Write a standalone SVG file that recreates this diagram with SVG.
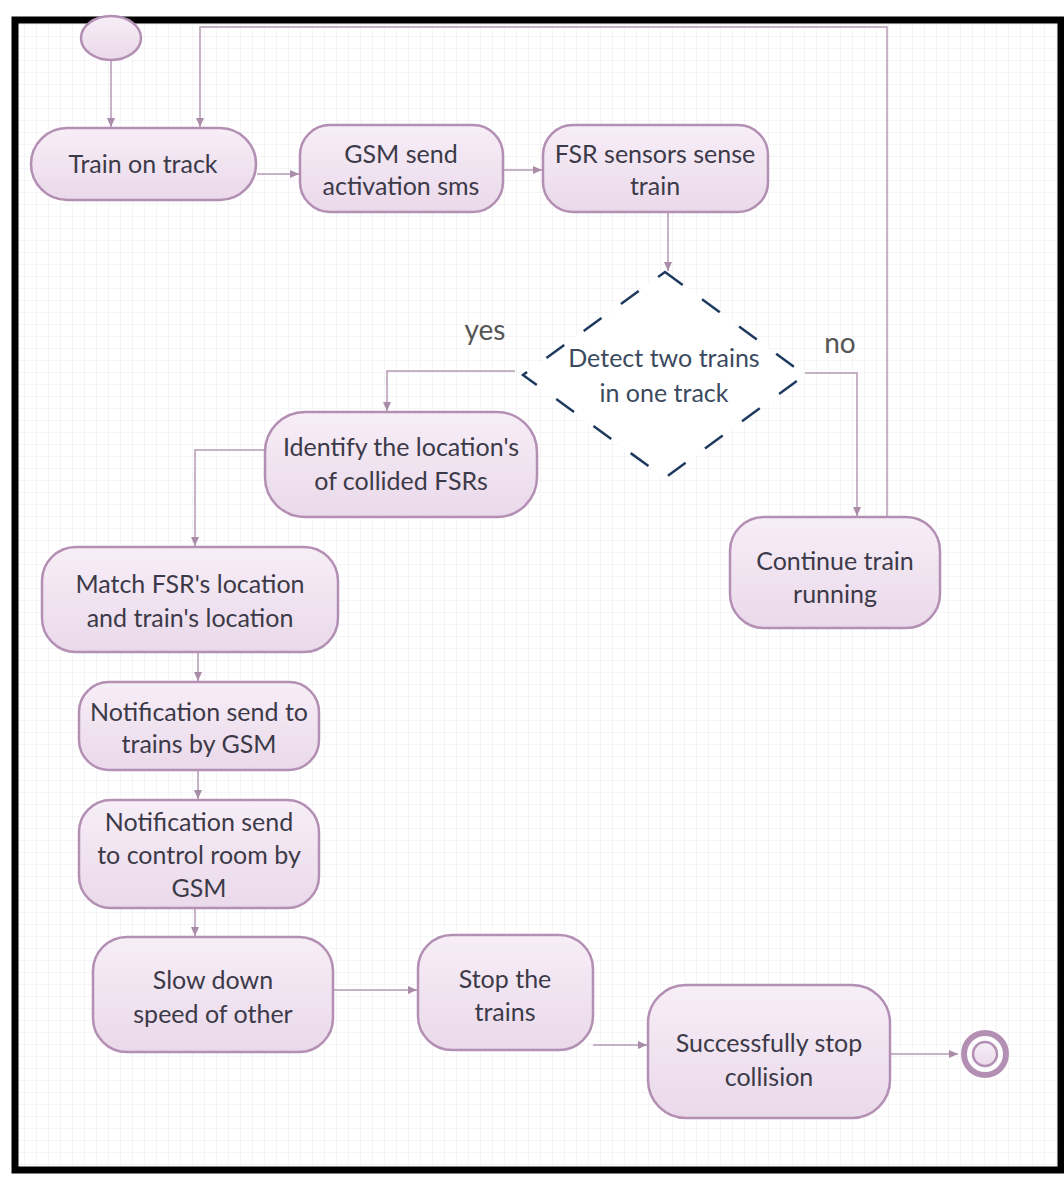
<svg xmlns="http://www.w3.org/2000/svg" width="1064" height="1180" viewBox="0 0 1064 1180">
<defs>
<pattern id="g" width="12" height="12" patternUnits="userSpaceOnUse"><path d="M12 0H0V12" fill="none" stroke="#ececf0" stroke-width="1"/></pattern>
<linearGradient id="f" x1="0" y1="0" x2="0" y2="1"><stop offset="0" stop-color="#f7eef7"/><stop offset="1" stop-color="#ead9ea"/></linearGradient>
<marker id="a" markerWidth="10" markerHeight="10" refX="9" refY="5" orient="auto" markerUnits="userSpaceOnUse"><path d="M0 1L9 5L0 9Z" fill="#a88ca8"/></marker>
<style>
.n{fill:url(#f);stroke:#b48fb4;stroke-width:2.5}
.t{font-family:Lato,"Liberation Sans",sans-serif;font-size:25px;fill:#3c3a48;text-anchor:middle}
.c{fill:none;stroke:#b49ab4;stroke-width:1.5;marker-end:url(#a)}
.l{font-family:Lato,"Liberation Sans",sans-serif;font-size:28px;fill:#555;text-anchor:middle}
</style>
</defs>
<rect width="1064" height="1180" fill="#fff"/>
<rect x="15" y="20" width="1046" height="1150" fill="url(#g)" stroke="#000" stroke-width="7"/>
<g id="connectors">
<path class="c" d="M111 60V127"/>
<path class="c" d="M887 517V27H200V127"/>
<path class="c" d="M257 174H299"/>
<path class="c" d="M504 170H542"/>
<path class="c" d="M668 212V271"/>
<path class="c" d="M515 371H387V411"/>
<path class="c" d="M805 373H857V516"/>
<path class="c" d="M265 450H195V546"/>
<path class="c" d="M198 652V681"/>
<path class="c" d="M198 770V799"/>
<path class="c" d="M195 908V936"/>
<path class="c" d="M333 990H417"/>
<path class="c" d="M593 1045H647"/>
<path class="c" d="M890 1054H958"/>
</g>
<g id="start"><ellipse cx="111" cy="38" rx="30" ry="22" class="n"/></g>
<g id="train"><rect x="31" y="128" width="225" height="72" rx="36" class="n"/><text class="t" x="143" y="173">Train on track</text></g>
<g id="gsm"><rect x="300" y="125" width="203" height="87" rx="30" class="n"/><text class="t" x="401" y="163">GSM send</text><text class="t" x="401" y="195">activation sms</text></g>
<g id="fsr"><rect x="543" y="125" width="225" height="87" rx="30" class="n"/><text class="t" x="655" y="163">FSR sensors sense</text><text class="t" x="655" y="195">train</text></g>
<g id="decision"><path d="M665 272L805 375L665 478L523 375Z" fill="#fff" stroke="#1e3a5f" stroke-width="2.5" stroke-dasharray="22,24"/><text class="t" x="664" y="367" style="fill:#3c4a60">Detect two trains</text><text class="t" x="664" y="402" style="fill:#3c4a60">in one track</text></g>
<text class="l" x="485" y="340">yes</text>
<text class="l" x="840" y="353">no</text>
<g id="identify"><rect x="265" y="412" width="272" height="105" rx="40" class="n"/><text class="t" x="401" y="456">Identify the location's</text><text class="t" x="401" y="490">of collided FSRs</text></g>
<g id="continue"><rect x="730" y="517" width="210" height="111" rx="34" class="n"/><text class="t" x="835" y="570">Continue train</text><text class="t" x="835" y="603">running</text></g>
<g id="match"><rect x="42" y="547" width="296" height="105" rx="34" class="n"/><text class="t" x="190" y="593">Match FSR's location</text><text class="t" x="190" y="627">and train's location</text></g>
<g id="notif1"><rect x="79" y="682" width="240" height="88" rx="30" class="n"/><text class="t" x="199" y="721">Notification send to</text><text class="t" x="199" y="753">trains by GSM</text></g>
<g id="notif2"><rect x="79" y="800" width="240" height="108" rx="32" class="n"/><text class="t" x="199" y="831">Notification send</text><text class="t" x="199" y="864">to control room by</text><text class="t" x="199" y="897">GSM</text></g>
<g id="slow"><rect x="93" y="937" width="240" height="115" rx="34" class="n"/><text class="t" x="213" y="989">Slow down</text><text class="t" x="213" y="1023">speed of other</text></g>
<g id="stop"><rect x="418" y="935" width="175" height="115" rx="34" class="n"/><text class="t" x="505" y="988">Stop the</text><text class="t" x="505" y="1021">trains</text></g>
<g id="success"><rect x="648" y="985" width="242" height="133" rx="38" class="n"/><text class="t" x="769" y="1052">Successfully stop</text><text class="t" x="769" y="1086">collision</text></g>
<g id="end"><circle cx="985" cy="1054" r="21" fill="none" stroke="#b48fb4" stroke-width="6"/><circle cx="985" cy="1054" r="12" class="n" stroke-width="2"/></g>
</svg>
